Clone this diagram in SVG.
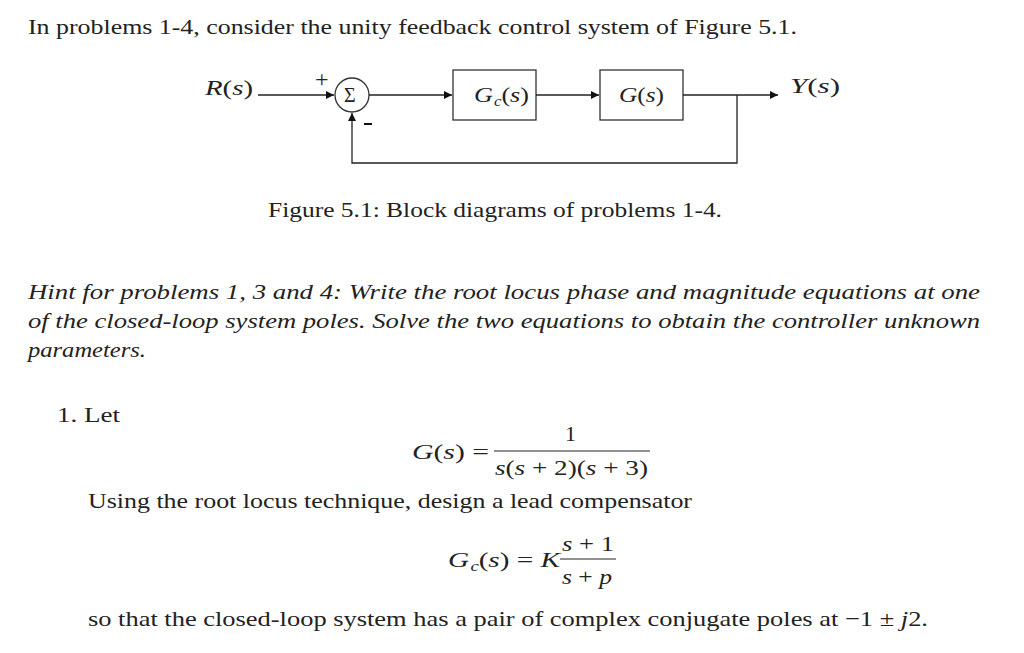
<svg xmlns="http://www.w3.org/2000/svg" width="1024" height="653" viewBox="0 0 1024 653">
<style>
text{font-family:"Liberation Serif","DejaVu Serif",serif;font-size:22px;fill:#222}
.i{font-style:italic}
.b{fill:none;stroke:#333;stroke-width:1.3}
.l{fill:none;stroke:#222;stroke-width:1.3}
</style>
<defs><marker id="a" viewBox="0 0 10 10" refX="10" refY="5" markerWidth="12" markerHeight="8" markerUnits="userSpaceOnUse" orient="auto"><path d="M0,0L10,5L0,10z" fill="#111"/></marker></defs>
<rect width="1024" height="653" fill="#fff"/>
<text x="28" y="34" textLength="769" lengthAdjust="spacingAndGlyphs">In problems 1-4, consider the unity feedback control system of Figure 5.1.</text>
<g id="R"><text x="205" y="95" class="i" textLength="48" lengthAdjust="spacingAndGlyphs">R<tspan font-style="normal">(</tspan>s<tspan font-style="normal">)</tspan></text></g>
<g id="sum"><circle cx="352" cy="95" r="17" class="b"/><text x="344" y="102" style="font-size:20px">Σ</text><text x="315" y="87" style="font-size:24px">+</text><line x1="364" y1="124" x2="372" y2="124" stroke="#111" stroke-width="2"/></g>
<g id="Gc"><rect x="453" y="70" width="83" height="50" class="b"/><text x="474" y="102" class="i" textLength="55" lengthAdjust="spacingAndGlyphs">G<tspan style="font-size:14px" dx="1" dy="4">c</tspan><tspan dy="-4" font-style="normal">(</tspan>s<tspan font-style="normal">)</tspan></text></g>
<g id="G"><rect x="600" y="70" width="83" height="50" class="b"/><text x="619" y="102" class="i" textLength="45" lengthAdjust="spacingAndGlyphs">G<tspan font-style="normal">(</tspan>s<tspan font-style="normal">)</tspan></text></g>
<g id="Y"><text x="790" y="93" class="i" textLength="50" lengthAdjust="spacingAndGlyphs">Y<tspan font-style="normal">(</tspan>s<tspan font-style="normal">)</tspan></text></g>
<g id="connectors">
<path d="M258,95H334" class="l" marker-end="url(#a)"/>
<path d="M369,95H452" class="l" marker-end="url(#a)"/>
<path d="M536,95H599" class="l" marker-end="url(#a)"/>
<path d="M683,95H778" class="l" marker-end="url(#a)"/>
<path d="M737,95V163H352V113" class="l" marker-end="url(#a)"/>
</g>
<text x="268" y="217" textLength="454" lengthAdjust="spacingAndGlyphs">Figure 5.1: Block diagrams of problems 1-4.</text>
<text x="28" y="299" class="i" textLength="952" lengthAdjust="spacingAndGlyphs">Hint for problems 1, 3 and 4: Write the root locus phase and magnitude equations at one</text>
<text x="28" y="328" class="i" textLength="952" lengthAdjust="spacingAndGlyphs">of the closed-loop system poles. Solve the two equations to obtain the controller unknown</text>
<text x="28" y="357" class="i" textLength="118" lengthAdjust="spacingAndGlyphs">parameters.</text>
<text x="57" y="422" textLength="63" lengthAdjust="spacingAndGlyphs">1. Let</text>
<text x="412" y="459" textLength="77" lengthAdjust="spacingAndGlyphs"><tspan font-style="italic">G</tspan>(<tspan font-style="italic">s</tspan>) =</text>
<text x="565" y="441">1</text>
<line x1="494" y1="451" x2="650" y2="451" stroke="#222" stroke-width="1.2"/>
<text x="495" y="475" textLength="153" lengthAdjust="spacingAndGlyphs"><tspan font-style="italic">s</tspan>(<tspan font-style="italic">s</tspan> + 2)(<tspan font-style="italic">s</tspan> + 3)</text>
<text x="88" y="508" textLength="604" lengthAdjust="spacingAndGlyphs">Using the root locus technique, design a lead compensator</text>
<text x="448" y="567" textLength="112" lengthAdjust="spacingAndGlyphs"><tspan font-style="italic">G</tspan><tspan style="font-size:14px;font-style:italic" dx="1" dy="4">c</tspan><tspan dy="-4">(</tspan><tspan font-style="italic">s</tspan>) = <tspan font-style="italic">K</tspan></text>
<text x="562" y="551" textLength="52" lengthAdjust="spacingAndGlyphs"><tspan font-style="italic">s</tspan> + 1</text>
<line x1="560" y1="559" x2="616" y2="559" stroke="#222" stroke-width="1.2"/>
<text x="562" y="584" textLength="50" lengthAdjust="spacingAndGlyphs"><tspan font-style="italic">s</tspan> + <tspan font-style="italic">p</tspan></text>
<text x="88" y="626" textLength="840" lengthAdjust="spacingAndGlyphs">so that the closed-loop system has a pair of complex conjugate poles at −1 ± <tspan font-style="italic">j</tspan>2.</text>
</svg>
